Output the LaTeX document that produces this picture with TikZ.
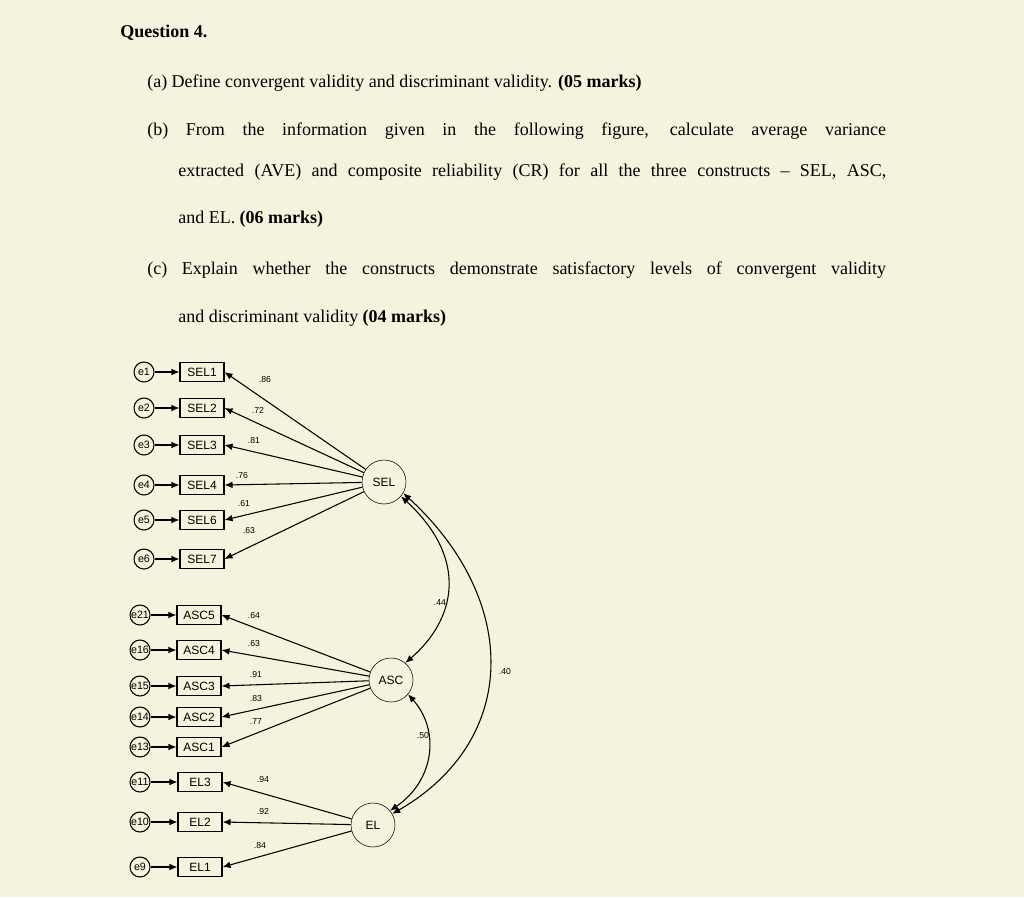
\documentclass[tikz,border=0pt]{standalone}
\usepackage{fontspec}
\setmainfont{Liberation Serif}
\newfontfamily\arialf{Liberation Sans}
\usetikzlibrary{arrows.meta}
\begin{document}
\begin{tikzpicture}[x=0.75pt,y=-0.75pt,
  txt/.style={anchor=west,inner sep=0pt,font=\fontsize{13.5}{15}\selectfont},
  err/.style={draw,thick,circle,minimum size=15pt,inner sep=0pt,font=\arialf\fontsize{8}{9}\selectfont},
  obs/.style={draw,thick,minimum width=33pt,minimum height=14pt,inner sep=0pt,font=\arialf\fontsize{9}{10}\selectfont},
  lat/.style={draw,circle,minimum size=33pt,inner sep=0pt,font=\arialf\fontsize{9}{10}\selectfont},
  ld/.style={font=\arialf\fontsize{6.5}{7}\selectfont,inner sep=1pt},
  arr/.style={-{Latex[length=6pt,width=5pt]},thick},
  cov/.style={{Latex[length=6pt,width=5pt]}-{Latex[length=6pt,width=5pt]},thick}]
\fill[white!90!yellow!95!black] (0,0) rectangle (1024,897);
\node[txt,font=\fontsize{13.5}{15}\selectfont\bfseries] (q) at (120,33) {Question 4.};
\node[txt] (la) at (147,83) {(a)\ Define convergent validity and discriminant validity. \textbf{(05 marks)}};
\node[txt] (lb) at (147,131) {\makebox[554pt][s]{(b) From the information given in the following figure, calculate average variance}};
\node[txt] (lb2) at (178,172) {\makebox[531pt][s]{extracted (AVE) and composite reliability (CR) for all the three constructs -- SEL, ASC,}};
\node[txt] (lb3) at (178,219) {and EL. \textbf{(06 marks)}};
\node[txt] (lc) at (147,270) {\makebox[554pt][s]{(c) Explain whether the constructs demonstrate satisfactory levels of convergent validity}};
\node[txt] (lc2) at (178,318) {and discriminant validity \textbf{(04 marks)}};

\node[lat] (SEL) at (384,482) {SEL};
\node[lat] (ASC) at (391,680) {ASC};
\node[lat] (EL) at (373,825) {EL};

\foreach \n/\e/\y/\l/\lx/\ly in {SEL1/e1/372/.86/265/380, SEL2/e2/408/.72/258/410, SEL3/e3/445/.81/254/441, SEL4/e4/485/.76/242/476, SEL6/e5/520/.61/244/504, SEL7/e6/559/.63/249/531}{
  \node[obs] (\n) at (202,\y) {\n};
  \node[err] (\e) at (144,\y) {\e};
  \draw[arr] (\e) -- (\n);
  \draw[arr] (SEL) -- (\n.east);
  \node[ld] (l\n) at (\lx,\ly) {\l};
}
\foreach \n/\e/\y/\l/\lx/\ly in {ASC5/e21/615/.64/254/616, ASC4/e16/650/.63/254/644, ASC3/e15/686/.91/256/675, ASC2/e14/717/.83/256/699, ASC1/e13/747/.77/256/722}{
  \node[obs] (\n) at (199,\y) {\n};
  \node[err] (\e) at (140,\y) {\e};
  \draw[arr] (\e) -- (\n);
  \draw[arr] (ASC) -- (\n.east);
  \node[ld] (l\n) at (\lx,\ly) {\l};
}
\foreach \n/\e/\y/\l/\lx/\ly in {EL3/e11/782/.94/263/780, EL2/e10/822/.92/263/812, EL1/e9/867/.84/260/846}{
  \node[obs] (\n) at (200,\y) {\n};
  \node[err] (\e) at (140,\y) {\e};
  \draw[arr] (\e) -- (\n);
  \draw[arr] (EL) -- (\n.east);
  \node[ld] (l\n) at (\lx,\ly) {\l};
}
\draw[cov] (SEL.-40) .. controls (470,560) and (455,620) .. (ASC.50);
\draw[cov] (SEL.-30) .. controls (520,600) and (520,740) .. (EL.30);
\draw[cov] (ASC.-40) .. controls (440,730) and (435,780) .. (EL.40);
\node[ld] (c1) at (440,603) {.44};
\node[ld] (c2) at (505,672) {.40};
\node[ld] (c3) at (423,736) {.50};
\end{tikzpicture}
\end{document}
